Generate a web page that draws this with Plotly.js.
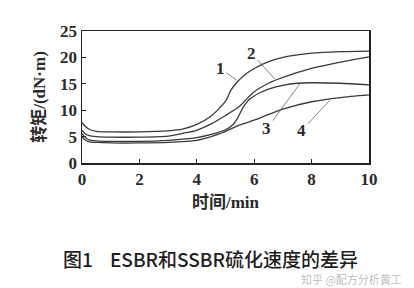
<!DOCTYPE html>
<html><head><meta charset="utf-8">
<script src="https://cdn.plot.ly/plotly-3.0.1.min.js"></script>
<style>html,body{margin:0;padding:0;background:#fff;}#chart{width:414px;height:288px;}</style>
</head><body><div id="chart"></div>
<script>
// time (min) and torque (dN·m) for each curve
const t1 = [0,0.1,0.25,0.5,1,2,3,3.5,4,4.5,5,5.2,5.4,5.7,6,6.5,7,8,9,10];
const c1 = [7.7,7.0,6.4,6.0,5.9,5.9,6.1,6.4,7.3,8.9,11.7,13.9,15.3,16.8,17.9,19.2,20.0,20.8,21.1,21.2];
const t2 = [0,0.1,0.25,0.5,1,2,3,3.5,4,4.5,5,5.5,6,6.5,7,8,9,10];
const c2 = [6.2,5.6,5.2,5.0,4.9,4.9,5.1,5.6,6.2,7.4,9.0,10.8,13.5,15.1,16.2,17.9,19.1,20.1];
const t3 = [0,0.1,0.25,0.5,1,2,3,4,4.5,5,5.25,5.4,5.6,5.8,6,6.2,6.5,7,7.5,8,9,10];
const c3 = [5.6,4.9,4.4,4.2,4.1,4.1,4.3,4.8,5.4,6.3,7.2,8.3,10.4,11.9,12.7,13.3,14.0,14.7,15.1,15.2,15.1,14.8];
const t4 = [0,0.1,0.25,0.5,1,2,3,4,4.5,5,5.5,6,6.5,7,8,9,10];
const c4 = [5.0,4.4,4.0,3.9,3.8,3.8,3.9,4.3,5.0,6.0,7.2,8.1,9.2,10.2,11.6,12.4,12.9];
const curveLabels = ['1','2','3','4'];
// label anchor points on the curves and label text positions (data units)
const labelPointX = [5.39, 6.72, 7.6, 8.64];
const labelPointY = [15.7, 15.9, 15.07, 11.9];
const labelTextX = [4.83, 5.91, 6.44, 7.66];
const labelTextY = [17.9, 20.76, 6.5, 6.2];
const xTicks = [0,2,4,6,8,10];
const yTicks = [0,5,10,15,20,25];

const lineStyle = {color:'#3a3a3a', width:1.3, shape:'spline', smoothing:0.7};
const traces = [[t1,c1],[t2,c2],[t3,c3],[t4,c4]].map(([x,y],i)=>({
  x, y, type:'scatter', mode:'lines', line:lineStyle, name:curveLabels[i], hoverinfo:'none'
}));

const serif = '"Liberation Serif", "Times New Roman", "DejaVu Serif", serif';
const tickFont = {family:serif, size:17, color:'#2a2a2a', weight:'bold'};
const titleFont = {family:serif + ', "Noto Sans CJK SC"', size:17, color:'#2a2a2a', weight:'bold'};
const annotations = curveLabels.map((lab,i)=>({
  x:labelPointX[i], y:labelPointY[i], xref:'x', yref:'y',
  ax:labelTextX[i], ay:labelTextY[i], axref:'x', ayref:'y',
  text:lab, showarrow:true, arrowhead:0, arrowwidth:0.8, arrowcolor:'#666',
  font:{family:serif, size:17, color:'#2a2a2a', weight:'bold'}
}));
annotations.push({
  xref:'paper', yref:'paper', x:-0.07, y:-0.72, xanchor:'left', yanchor:'middle', borderpad:0,
  text:'图1\u00a0\u00a0\u00a0\u00a0ESBR和SSBR硫化速度的差异', showarrow:false,
  font:{family:'"Noto Sans CJK SC", sans-serif', size:19, color:'#1e1e1e', weight:500}
});
annotations.push({
  xref:'paper', yref:'paper', x:1.12, y:-0.947, xanchor:'right', yanchor:'bottom', borderpad:0,
  text:'知乎 @配方分析黄工', showarrow:false,
  font:{family:'"Noto Sans CJK SC", sans-serif', size:11, color:'rgba(175,175,175,0.85)'}
});

const layout = {
  width:414, height:288,
  margin:{l:82, r:45, t:31, b:125},
  paper_bgcolor:'#fff', plot_bgcolor:'#fff',
  showlegend:false,
  xaxis:{range:[0,10], tickvals:xTicks, ticks:'inside', ticklen:4, tickcolor:'#222',
    showline:true, linecolor:'#222', linewidth:1.5, mirror:true, showgrid:false, zeroline:false,
    tickfont:tickFont,
    title:{text:'时间/min', font:titleFont, standoff:8}},
  yaxis:{range:[0,25], tickvals:yTicks, ticks:'inside', ticklen:4, tickcolor:'#222',
    showline:true, linecolor:'#222', linewidth:1.5, mirror:true, showgrid:false, zeroline:false,
    tickfont:tickFont,
    title:{text:'转矩/(dN·m)', font:titleFont, standoff:10}},
  annotations
};
Plotly.newPlot('chart', traces, layout, {staticPlot:true, displayModeBar:false});
</script></body></html>
